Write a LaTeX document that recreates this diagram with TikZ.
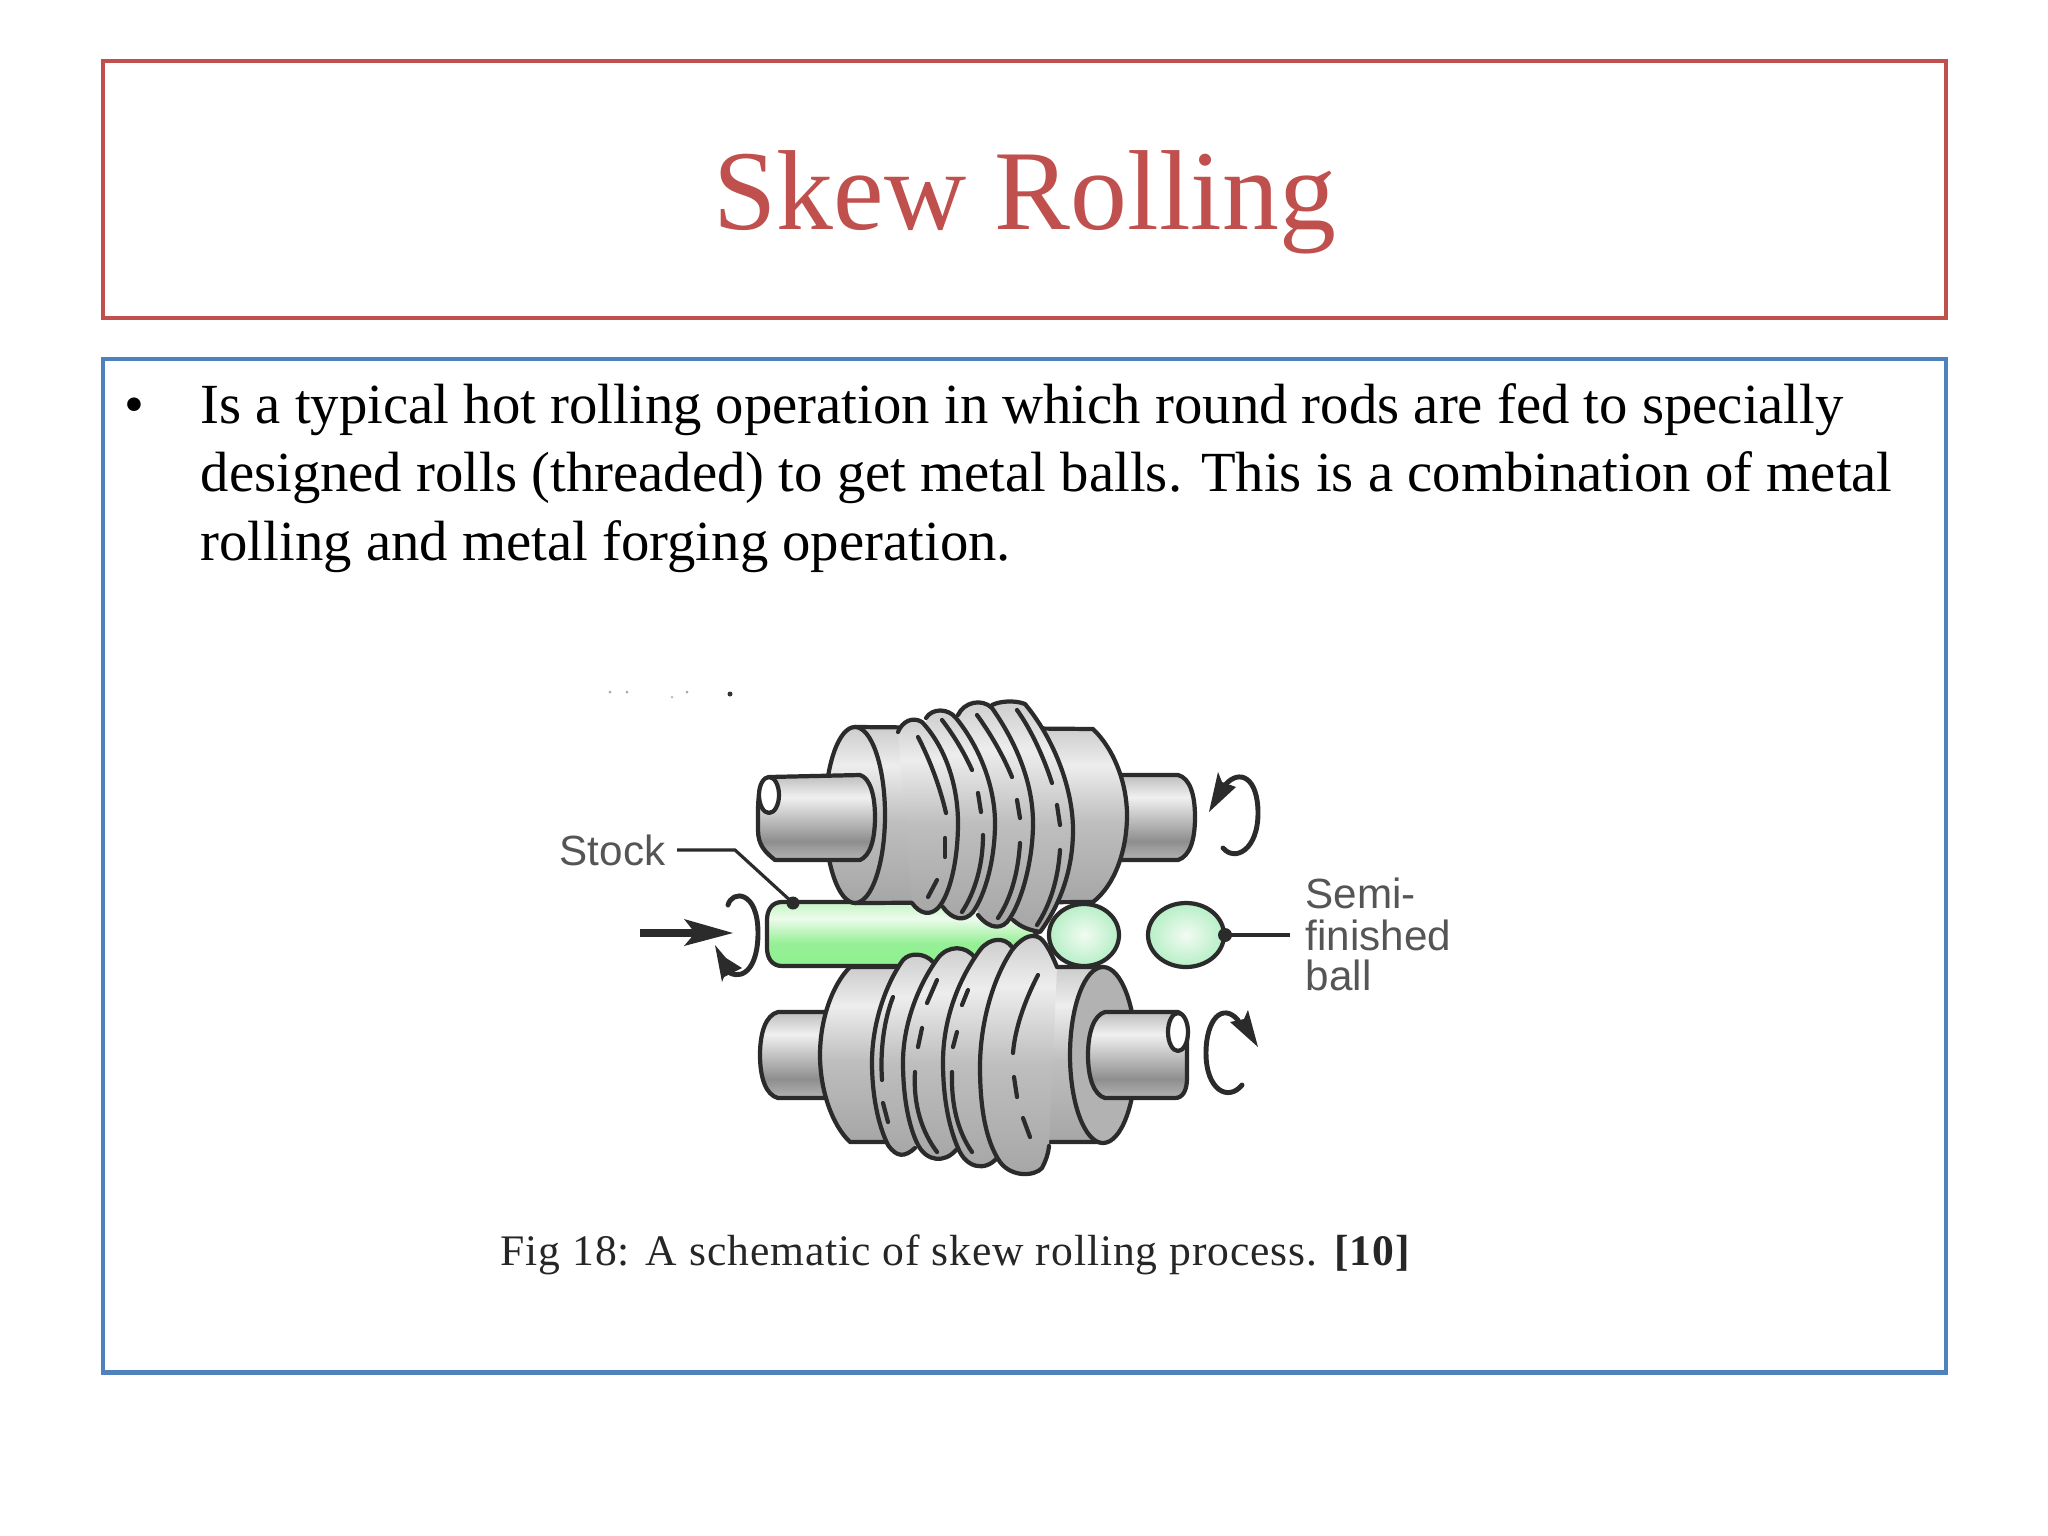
\documentclass[tikz,border=0pt]{standalone}
\usepackage{fontspec}
\setmainfont{Liberation Serif}
\newfontfamily\labelfont{Liberation Sans}
\newfontfamily\capfont[LetterSpace=2.1]{Liberation Serif}
\definecolor{titlered}{HTML}{C0504D}
\definecolor{boxblue}{HTML}{4F81BD}
\definecolor{inkline}{HTML}{2B2B2B}
\definecolor{labgray}{HTML}{555555}
\definecolor{ra}{HTML}{A6A6A6}
\definecolor{rb}{HTML}{BEBEBE}
\definecolor{rc}{HTML}{EDEDED}
\definecolor{rd}{HTML}{CCCCCC}
\definecolor{sa}{HTML}{B4B4B4}
\definecolor{sb}{HTML}{8E8E8E}
\definecolor{sc}{HTML}{F0F0F0}
\definecolor{sd}{HTML}{BDBDBD}
\definecolor{ga}{HTML}{8FF08F}
\definecolor{gb}{HTML}{96F096}
\definecolor{gc}{HTML}{ECFBEC}
\definecolor{gd}{HTML}{C4F5C4}
\definecolor{bc}{HTML}{F2FBF2}
\definecolor{bo}{HTML}{B6EFC6}
\pgfdeclareverticalshading{rollsh}{100bp}{color(0bp)=(ra); color(25bp)=(ra); color(48bp)=(rb); color(64bp)=(rc); color(75bp)=(rd); color(100bp)=(rd)}
\pgfdeclareverticalshading{shaftsh}{100bp}{color(0bp)=(sa); color(25bp)=(sa); color(36bp)=(sb); color(62bp)=(sc); color(75bp)=(sd); color(100bp)=(sd)}
\pgfdeclareverticalshading{stocksh}{100bp}{color(0bp)=(ga); color(25bp)=(ga); color(43bp)=(gb); color(62bp)=(gc); color(75bp)=(gd); color(100bp)=(gd)}
\pgfdeclareradialshading{ballsh}{\pgfpoint{0bp}{0bp}}{color(0bp)=(bc); color(25bp)=(bo); color(50bp)=(bo)}
\newcommand{\solidpart}[2][rollsh]{\shade[shading=#1] #2; \draw[partline] #2;}
\tikzset{
  framebox/.style={line width=1.3pt,outer sep=0pt,inner sep=0pt,anchor=north west},
  partline/.style={draw=inkline,line width=1.2pt,line cap=round,line join=round},
  detail/.style={draw=inkline,line width=1.2pt,line cap=round},
  labeltext/.style={font=\labelfont\fontsize{12}{14}\selectfont,text=labgray,inner sep=0pt},
  bodytext/.style={font=\fontsize{16.13}{19.5}\selectfont,text=black,inner sep=0pt,anchor=base west},
  leader/.style={draw=inkline,line width=0.9pt},
}
\begin{document}
\begin{tikzpicture}[x=0.01cm,y=-0.01cm]
\useasboundingbox (0,0) rectangle (2048,1536);
\fill[white] (0,0) rectangle (2048,1536);
% frames
\node[draw=titlered,framebox,minimum width=18.42cm,minimum height=2.57cm] (titlebox) at (103,61) {};
\node[draw=boxblue,framebox,minimum width=18.42cm,minimum height=10.13cm] (bodybox) at (103,359) {};
\node[font=\fontsize{32.35}{36}\selectfont,text=titlered,anchor=base,inner sep=0pt] (title) at (1025,229) {Skew Rolling};
\node[bodytext] (bullet) at (124,423) {•};
\node[bodytext] (line1) at (200,423) {Is a typical hot rolling operation in which round rods are fed to specially};
\node[bodytext] (line2) at (200,491) {designed rolls (threaded) to get metal balls. This is a combination of metal};
\node[bodytext] (line3) at (200,560) {rolling and metal forging operation.};
% specks
\fill[black!35] (610,692) circle (1.5);
\fill[black!35] (627,692) circle (1.5);
\fill[black!25] (672,697) circle (1.5);
\fill[black!35] (687,692) circle (1.5);
\fill[black!80] (730,694) circle (2.5);
% stock
\solidpart[stocksh]{(782,902) -- (1000,902) -- (1037,933) -- (1000,966) -- (782,966) .. controls (772,966) and (767,958) .. (767,948) -- (767,920) .. controls (767,910) and (772,902) .. (782,902) -- cycle}
% upper roll: right shaft
\solidpart[shaftsh]{(1120,775) -- (1178,775) .. controls (1190,778) and (1195,795) .. (1195,817) .. controls (1195,840) and (1190,856) .. (1178,860) -- (1120,860) -- cycle}
% upper body
\solidpart{(855,727) -- (1093,729) .. controls (1115,750) and (1127,785) .. (1127,815) .. controls (1127,850) and (1115,885) .. (1093,902) -- (855,903) -- cycle}
% upper ridges
\solidpart{(992,705) .. controls (1000,701) and (1015,700) .. (1025,704) .. controls (1055,740) and (1073,790) .. (1073,830) .. controls (1073,870) and (1060,905) .. (1040,932) .. controls (1030,930) and (1022,928) .. (1013,920)}
\draw[detail] (1017,710) .. controls (1030,728) and (1043,755) .. (1052,783);
\draw[detail] (1057,805) -- (1060,825);
\draw[detail] (1060,850) .. controls (1058,880) and (1050,905) .. (1037,925);
\solidpart{(958,715) .. controls (964,702) and (982,698) .. (992,708) .. controls (1018,745) and (1033,785) .. (1033,823) .. controls (1033,860) and (1022,900) .. (1010,918) .. controls (1003,930) and (990,930) .. (978,915)}
\draw[detail] (977,715) .. controls (990,733) and (1003,755) .. (1012,777);
\draw[detail] (1017,800) -- (1020,818);
\draw[detail] (1020,843) .. controls (1018,875) and (1010,900) .. (998,918);
\solidpart{(926,718) .. controls (932,708) and (948,708) .. (956,718) .. controls (982,750) and (995,790) .. (995,823) .. controls (995,860) and (985,895) .. (973,912) .. controls (965,922) and (952,920) .. (943,907)}
\draw[detail] (942,720) .. controls (952,733) and (963,750) .. (972,770);
\draw[detail] (978,793) -- (981,812);
\draw[detail] (983,835) .. controls (983,865) and (975,892) .. (962,912);
\solidpart{(898,732) .. controls (902,722) and (912,716) .. (922,722) .. controls (948,750) and (958,790) .. (958,823) .. controls (958,860) and (950,895) .. (938,908) .. controls (930,916) and (920,914) .. (912,903)}
\draw[detail] (918,737) .. controls (930,760) and (940,787) .. (946,813);
\draw[detail] (945,838) -- (945,857);
\draw[detail] (937,880) -- (928,897);
% upper flange and left shaft
\shade[shading=rollsh] (855,815) ellipse [x radius=30,y radius=88];
\draw[partline] (855,815) ellipse [x radius=30,y radius=88];
\solidpart[shaftsh]{(769,777) -- (860,775) .. controls (870,778) and (875,795) .. (875,817) .. controls (875,840) and (870,856) .. (860,860) -- (775,860) .. controls (765,852) and (758,845) .. (758,830) -- (758,812) .. controls (758,795) and (760,780) .. (769,777) -- cycle}
\fill[white] (769,795) ellipse [x radius=10,y radius=18];
\draw[partline] (769,795) ellipse [x radius=10,y radius=18];
% lower roll: left shaft
\solidpart[shaftsh]{(830,1012) -- (778,1012) .. controls (766,1015) and (760,1032) .. (760,1055) .. controls (760,1078) and (766,1095) .. (778,1098) -- (830,1098) -- cycle}
% lower body
\solidpart{(1103,967) -- (850,967) .. controls (832,985) and (820,1020) .. (820,1055) .. controls (820,1090) and (832,1125) .. (850,1142) -- (1103,1142) -- cycle}
% lower ridges
\solidpart{(933,962) .. controls (925,953) and (910,952) .. (903,960) .. controls (885,985) and (872,1025) .. (872,1062) .. controls (872,1095) and (878,1125) .. (888,1145) .. controls (897,1158) and (905,1157) .. (915,1148)}
\draw[detail] (893,997) .. controls (884,1020) and (880,1050) .. (882,1080);
\draw[detail] (883,1103) -- (888,1122);
\solidpart{(975,958) .. controls (966,945) and (948,945) .. (938,958) .. controls (918,985) and (903,1025) .. (903,1062) .. controls (903,1095) and (908,1125) .. (918,1145) .. controls (927,1162) and (945,1163) .. (956,1150)}
\draw[detail] (937,980) -- (927,1003);
\draw[detail] (922,1028) -- (918,1047);
\draw[detail] (915,1072) .. controls (913,1105) and (922,1132) .. (937,1152);
\solidpart{(1012,947) .. controls (1005,937) and (990,937) .. (980,950) .. controls (958,980) and (943,1020) .. (943,1062) .. controls (943,1095) and (948,1125) .. (958,1148) .. controls (966,1168) and (985,1172) .. (997,1158)}
\draw[detail] (968,990) -- (962,1005);
\draw[detail] (957,1032) -- (953,1047);
\draw[detail] (952,1072) .. controls (951,1105) and (958,1132) .. (972,1152);
\solidpart{(1057,967) .. controls (1050,950) and (1045,942) .. (1040,938) .. controls (1030,932) and (1020,940) .. (1012,950) .. controls (992,980) and (980,1025) .. (980,1067) .. controls (980,1105) and (985,1140) .. (1000,1162) .. controls (1012,1178) and (1035,1176) .. (1042,1168) .. controls (1046,1160) and (1048,1155) .. (1049,1146)}
\draw[detail] (1038,975) .. controls (1025,1000) and (1015,1028) .. (1013,1053);
\draw[detail] (1014,1077) -- (1017,1097);
\draw[detail] (1023,1118) -- (1030,1137);
% lower flange and right shaft
\filldraw[partline,fill=black!30] (1103,1055) ellipse [x radius=33,y radius=88];
\solidpart[shaftsh]{(1105,1012) -- (1178,1012) .. controls (1187,1015) and (1187,1030) .. (1187,1050) -- (1187,1078) .. controls (1187,1090) and (1183,1098) .. (1175,1098) -- (1105,1098) .. controls (1094,1095) and (1088,1078) .. (1088,1055) .. controls (1088,1032) and (1094,1015) .. (1105,1012) -- cycle}
\fill[white] (1178,1032) ellipse [x radius=10,y radius=19];
\draw[partline] (1178,1032) ellipse [x radius=10,y radius=19];
% balls
\shade[shading=ballsh] (1084,935) ellipse [x radius=35,y radius=31];
\draw[partline] (1084,935) ellipse [x radius=35,y radius=31];
\shade[shading=ballsh] (1186,935) ellipse [x radius=38,y radius=32];
\draw[partline] (1186,935) ellipse [x radius=38,y radius=32];
% labels and leaders
\node[labeltext,anchor=base west] (stocklabel) at (559,865) {Stock};
\coordinate (stockstart) at (677,850);
\coordinate (stockbend) at (735,850);
\coordinate (stockdot) at (793,903);
\draw[leader] (stockstart) -- (stockbend) -- (stockdot);
\fill[inkline] (stockdot) circle (6.5);
\node[labeltext,anchor=base west] (semi) at (1305,908) {Semi-};
\node[labeltext,anchor=base west] (finished) at (1305,950) {finished};
\node[labeltext,anchor=base west] (ballword) at (1305,990) {ball};
\coordinate (balldot) at (1225,935);
\coordinate (ballend) at (1290,935);
\draw[leader] (ballend) -- (balldot);
\fill[inkline] (balldot) circle (7);
% feed arrow
\coordinate (feedstart) at (640,933);
\coordinate (feedtip) at (733,933);
\draw[inkline,line width=2pt] (feedstart) -- (700,933);
\fill[inkline] (feedtip) -- (684,919) -- (695,933) -- (684,946) -- cycle;
% rotation arrows
\draw[detail,line width=1.4pt] (728,905) .. controls (732,890) and (758,890) .. (758,933) .. controls (758,965) and (745,980) .. (730,973);
\fill[inkline] (715,945) -- (726,958) -- (742,968) -- (724,977) -- (722,982) -- cycle;
\draw[detail,line width=1.4pt] (1223,848) .. controls (1235,862) and (1258,850) .. (1258,813) .. controls (1258,778) and (1240,768) .. (1225,785);
\fill[inkline] (1209,812) -- (1218,772) -- (1222,782) -- (1236,787) -- cycle;
\draw[detail,line width=1.4pt] (1242,1085) .. controls (1228,1102) and (1206,1090) .. (1206,1053) .. controls (1206,1020) and (1222,1002) .. (1238,1020);
\fill[inkline] (1258,1047) -- (1248,1010) -- (1244,1019) -- (1230,1022) -- cycle;
% caption
\node[font=\capfont\fontsize{12.4}{15}\selectfont,text=black!85,anchor=base west,inner sep=0pt] (caption) at (500,1265) {Fig 18: A schematic of skew rolling process. \textbf{[10]}};
\end{tikzpicture}
\end{document}
